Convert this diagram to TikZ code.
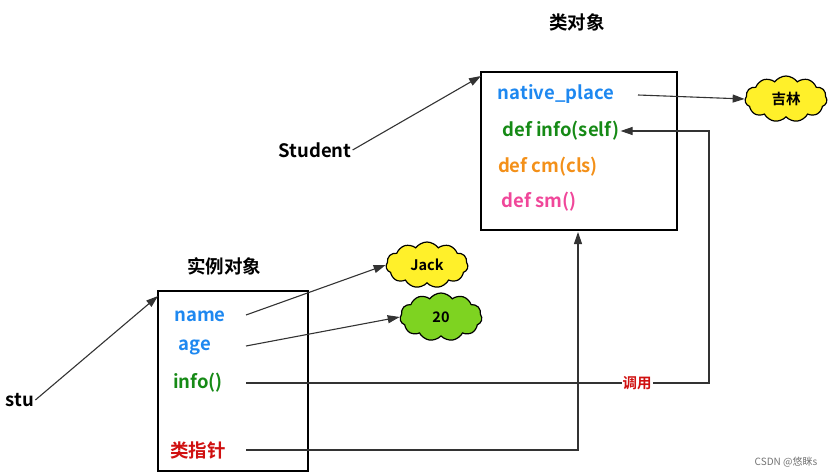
\documentclass[tikz,border=0pt]{standalone}
\usepackage{fontspec}
\setmainfont{Noto Sans CJK SC}[BoldFont={* Bold}]
\usetikzlibrary{shapes.symbols,arrows.meta}
\definecolor{cblue}{HTML}{1E88F0}
\definecolor{cgreen}{HTML}{168A16}
\definecolor{corange}{HTML}{F39019}
\definecolor{cpink}{HTML}{F0479A}
\definecolor{cred}{HTML}{D01010}
\definecolor{cyel}{HTML}{FFF02A}
\definecolor{cgrn}{HTML}{7ED321}
\begin{document}
\begin{tikzpicture}[x=1pt,y=-1pt,
  txt/.style={font=\bfseries\fontsize{18.5}{22}\selectfont,inner sep=1pt},
  arr/.style={-{Triangle[length=12pt,width=8pt]},line width=1.1pt,draw=black!80},
  cl/.style={cloud,cloud puffs=11,cloud puff arc=110,aspect=1.8,draw,line width=1.2pt,minimum width=82pt,minimum height=46pt,inner sep=0pt,font=\bfseries\fontsize{14.5}{17}\selectfont}]
\useasboundingbox (0,0) rectangle (838,476);
\draw[line width=1.3pt] (481,72) rectangle (677,230);
\draw[line width=1.3pt] (158,291) rectangle (308,471);
\coordinate (cbtl) at (481,76);
\coordinate (cbb) at (578,232);
\coordinate (ibtl) at (158,296);
\node[txt] (ct) at (577,22) {类对象};
\node[txt] (it) at (224,266) {实例对象};
\node[txt,text=cblue] (np) at (556,94) {native\_place};
\node[txt,text=cgreen] (di) at (561,131) {def info(self)};
\node[txt,text=corange] (dc) at (548,167) {def cm(cls)};
\node[txt,text=cpink] (ds) at (539,202) {def sm()};
\node[txt] (st) at (315,150) {Student};
\node[txt] (stu) at (20,400) {stu};
\node[txt,text=cblue] (nm) at (200,316) {name};
\node[txt,text=cblue] (ag) at (195,347) {age};
\node[txt,text=cgreen] (inf) at (198,383) {info()};
\node[txt,text=cred] (lz) at (198,450) {类指针};
\node[cl,fill=cyel] (jl) at (786,99) {吉林};
\node[cl,fill=cyel] (jk) at (427,265) {Jack};
\node[cl,fill=cgrn,minimum height=48pt] (n20) at (441,317) {20};
\node[font=\fontsize{10}{12}\selectfont,text=black!55] (wm) at (786,462) {CSDN @悠眯s};
\coordinate (s1) at (638,95);
\coordinate (s2) at (246,315);
\coordinate (s3) at (246,346);
\coordinate (s4) at (246,383);
\coordinate (s5) at (246,450);
\draw[arr] (st.east) -- (cbtl);
\draw[arr] (stu.east) -- (ibtl);
\draw[arr] (s1) -- (jl.west);
\draw[arr] (s2) -- (jk.west);
\draw[arr] (s3) -- (n20.west);
\coordinate (a1) at (709,383);
\coordinate (a2) at (709,131);
\draw[arr] (s4) -- (a1) -- (a2) -- (di.east);
\node[txt,text=cred,fill=white,font=\bfseries\fontsize{14.5}{17}\selectfont] (dy) at (637,383) {调用};
\coordinate (b1) at (578,450);
\draw[arr] (s5) -- (b1) -- (cbb);
\end{tikzpicture}
\end{document}
